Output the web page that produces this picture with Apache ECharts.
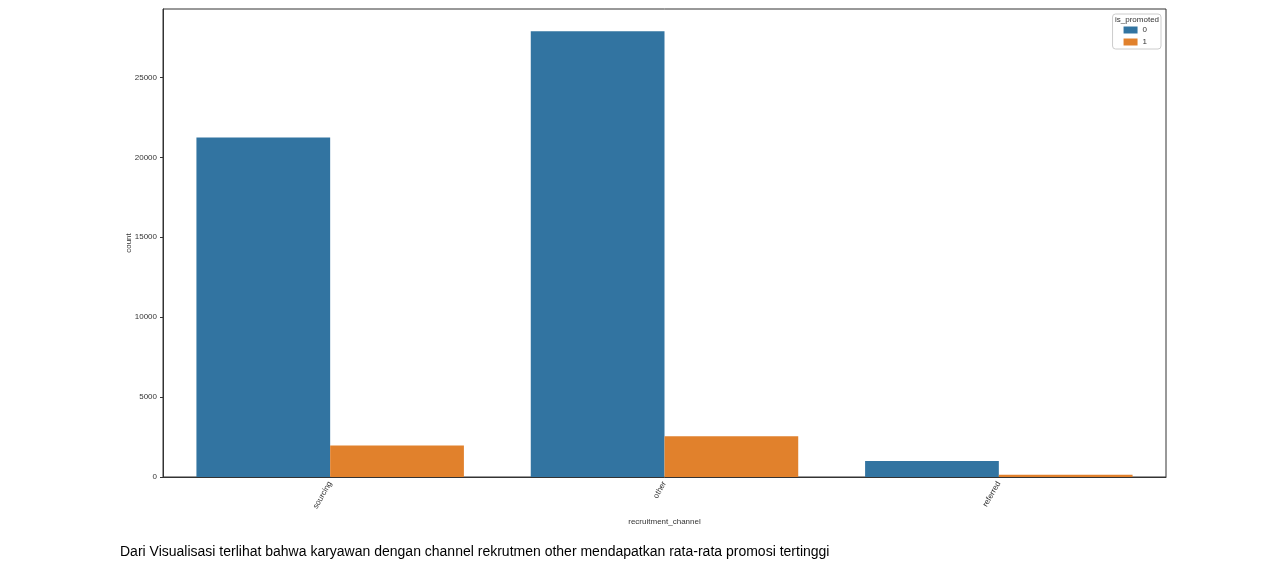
<!DOCTYPE html>
<html>
<head>
<meta charset="utf-8">
<script src="https://cdn.jsdelivr.net/npm/echarts@6/dist/echarts.min.js"></script>
<style>
html,body{margin:0;padding:0;background:#fff;}
#main{width:1280px;height:577px;}
</style>
</head>
<body>
<div id="main"></div>
<script>
var categories = ['sourcing', 'other', 'referred'];
var notPromoted = [21246, 27890, 1004];
var promoted = [1974, 2556, 138];
var seriesNames = ['0', '1'];
var yTicks = [0, 5000, 10000, 15000, 20000, 25000];

var chart = echarts.init(document.getElementById('main'));
var font = 'Liberation Sans, DejaVu Sans, sans-serif';
chart.setOption({
  animation: false,
  textStyle: { fontFamily: font },
  title: {
    text: 'Dari Visualisasi terlihat bahwa karyawan dengan channel rekrutmen other mendapatkan rata-rata promosi tertinggi',
    left: 120, top: 545, padding: 0,
    textStyle: { fontSize: 14, fontWeight: 'normal', color: '#000', fontFamily: font }
  },
  grid: { left: 163, right: 114, top: 9, bottom: 100, show: true, borderColor: '#333', borderWidth: 1, backgroundColor: '#fff' },
  legend: {
    orient: 'vertical', right: 119, top: 14,
    itemWidth: 14, itemHeight: 7, itemGap: 4,
    padding: [12, 14, 3, 11],
    borderColor: '#ccc', borderWidth: 1, borderRadius: 3,
    icon: 'rect',
    textStyle: { fontSize: 8, color: '#333' },
    data: seriesNames
  },
  graphic: [{
    type: 'text', left: 1115, top: 16,
    style: { text: 'is_promoted', fontSize: 8, fill: '#333', fontFamily: font }
  }],
  xAxis: {
    type: 'category', data: categories,
    name: 'recruitment_channel', nameLocation: 'middle', nameGap: 37,
    nameTextStyle: { fontSize: 8, color: '#333' },
    axisLine: { lineStyle: { color: '#333', width: 1 } },
    axisTick: { alignWithLabel: true, length: 3, lineStyle: { color: '#333' } },
    axisLabel: { rotate: 60, fontSize: 8, color: '#333', margin: 5 }
  },
  yAxis: {
    type: 'value', min: 0, max: 29280, interval: 5000,
    name: 'count', nameLocation: 'middle', nameGap: 30, nameMoveOverlap: false,
    nameTextStyle: { fontSize: 8, color: '#333' },
    axisLine: { show: true, lineStyle: { color: '#333', width: 1 } },
    axisTick: { show: true, length: 3, customValues: yTicks, lineStyle: { color: '#333' } },
    axisLabel: { fontSize: 8, color: '#333', margin: 6, customValues: yTicks,
      formatter: function (v) { return String(v); } },
    splitLine: { show: false }
  },
  series: [
    { name: seriesNames[0], type: 'bar', data: notPromoted, barGap: '0%', barCategoryGap: '20%',
      itemStyle: { color: '#3274a1' } },
    { name: seriesNames[1], type: 'bar', data: promoted, barGap: '0%', barCategoryGap: '20%',
      itemStyle: { color: '#e1812c' } }
  ]
});
</script>
</body>
</html>
